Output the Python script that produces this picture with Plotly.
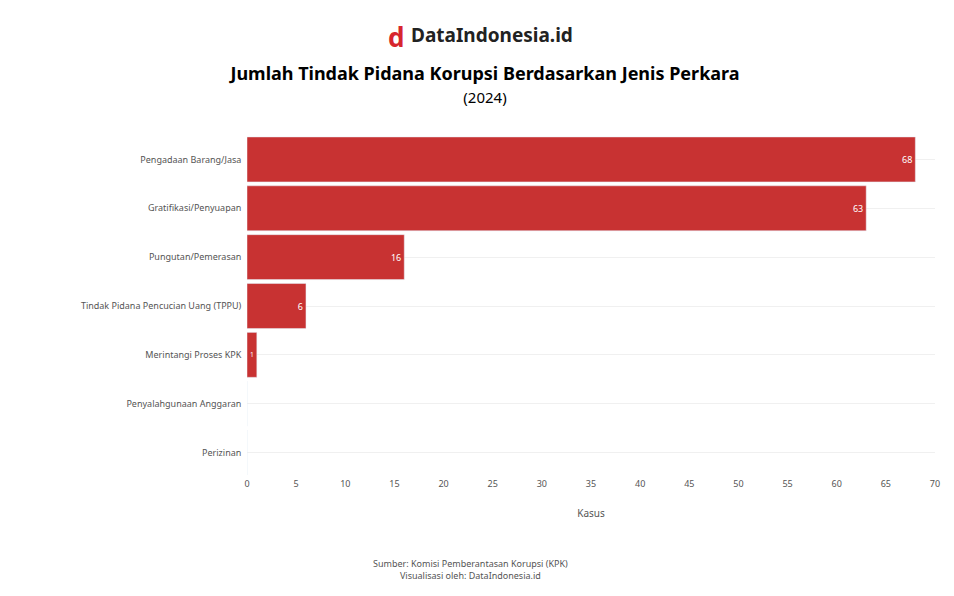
import plotly.graph_objects as go

# data kasus korupsi 2024 per jenis perkara
jenis_perkara = [
    "Pengadaan Barang/Jasa",
    "Gratifikasi/Penyuapan",
    "Pungutan/Pemerasan",
    "Tindak Pidana Pencucian Uang (TPPU)",
    "Merintangi Proses KPK",
    "Penyalahgunaan Anggaran",
    "Perizinan",
]
jumlah_kasus = [68, 63, 16, 6, 1, 0, 0]
x_ticks = list(range(0, 75, 5))

fig = go.Figure()
fig.add_trace(go.Bar(
    y=jenis_perkara, x=jumlah_kasus, orientation="h",
    marker_color="#c83232", width=0.92,
    text=jumlah_kasus, textposition="inside", insidetextanchor="end",
    textfont=dict(color="white", size=9),
))

# page has an 8px body offset, margins account for it
fig.update_layout(
    width=954, height=596,
    paper_bgcolor="white", plot_bgcolor="white",
    font=dict(family="Noto Sans", color="#333"),
    margin=dict(l=239, r=27, t=127, b=127, autoexpand=False),
    showlegend=False,
    title=dict(
        text="<b>Jumlah Tindak Pidana Korupsi Berdasarkan Jenis Perkara</b><br>"
             "<span style='font-size:15px;font-weight:normal'>(2024)</span>",
        x=0.5, y=0.88, yanchor="top", xanchor="center",
        font=dict(size=18, color="black"),
    ),
    xaxis=dict(
        range=[0, 70], tickvals=x_ticks, showgrid=False, zeroline=False,
        tickfont=dict(size=9, color="#555"), automargin=False,
        title=dict(text="Kasus", font=dict(size=10, color="#555"), standoff=20),
    ),
    yaxis=dict(
        autorange="reversed", showgrid=True, gridcolor="#f0f0f0",
        tickfont=dict(size=9, color="#555"), ticksuffix="  ", automargin=False,
    ),
)

fig.add_annotation(
    text="<b>d</b>", x=(386 - 247) / 688, y=1.345, xref="paper", yref="paper",
    showarrow=False, font=dict(size=26, color="#d7262e"),
)
fig.add_annotation(
    text="<b>DataIndonesia.id</b>", x=(492 - 247) / 688, y=1.335,
    xref="paper", yref="paper", xanchor="center", showarrow=False,
    font=dict(size=19, color="#222"),
)
fig.add_annotation(
    text="Sumber: Komisi Pemberantasan Korupsi (KPK)<br>Visualisasi oleh: DataIndonesia.id",
    x=(470 - 247) / 688, y=-0.27, xref="paper", yref="paper",
    xanchor="center", yanchor="middle",
    showarrow=False, font=dict(size=9, color="#555"),
)

fig.write_html("out.html")
